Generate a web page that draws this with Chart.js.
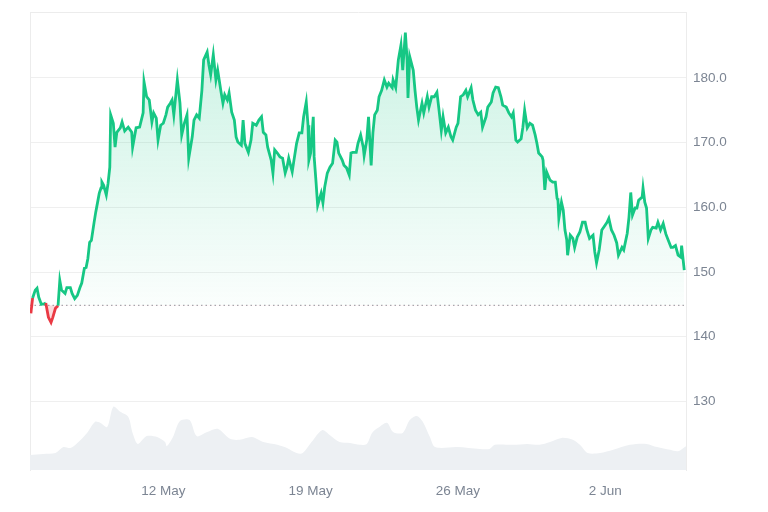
<!DOCTYPE html>
<html>
<head>
<meta charset="utf-8">
<script src="https://cdn.jsdelivr.net/npm/chart.js@4.4.1/dist/chart.umd.min.js"></script>
<style>
  body { margin: 0; background: #fff; }
  #wrap { width: 768px; height: 512px; position: relative; }
</style>
</head>
<body>
<div id="wrap"><canvas id="chart"></canvas></div>
<script>
const priceHours = [
  1,3,6,8,10,13,16,18,21,24,
  26,29,32,34,36,40,42,46,48,51,
  54,57,59,62,64,66,68,70,73,75,
  76,79,81,82,84,87,89,91,92,95,
  97,99,103,105,108,112,116,117,121,125,
  129,130,133,136,139,141,144,146,149,152,
  155,157,160,162,164,168,171,173,176,179,
  181,185,187,190,193,196,198,202,204,206,
  209,212,214,218,220,222,225,227,230,233,
  235,237,241,243,245,249,252,254,258,261,
  264,266,269,271,275,277,279,282,285,288,
  291,293,295,299,301,304,307,310,312,315,
  317,318,320,323,324,326,328,332,334,336,
  339,342,345,348,350,352,356,358,361,364,
  366,368,372,374,377,380,381,384,386,389,
  391,393,396,398,401,404,407,409,413,414,
  417,420,423,425,428,430,431,433,437,439,
  441,443,447,449,453,455,458,461,464,466,
  469,471,474,477,480,482,486,488,491,494,
  497,499,503,505,508,511,514,516,520,522,
  526,528,531,534,537,539,543,546,549,551,
  554,556,560,562,564,567,570,573,576,578,
  580,584,585,587,589,593,596,599,601,602,
  603,606,608,610,612,613,616,619,621,624,
  627,630,633,635,638,642,644,646,649,652,
  654,658,660,663,666,669,671,675,677,681,
  683,685,687,690,692,694,698,699,701,703,
  705,708,710,714,716,719,722,725,727,731,
  733,736,739,742,743,746
]
const priceValues = [
  143.6,146.0,147.2,147.5,146.1,145.0,145.1,145.2,143.0,142.2,
  143.0,144.4,144.8,148.7,147.2,146.7,147.6,147.6,146.7,145.9,
  146.4,147.6,148.3,150.6,150.7,152.1,154.6,154.9,157.6,159.3,
  160.0,162.2,163.0,163.9,163.4,161.9,163.7,166.2,174.3,173.0,
  169.3,171.6,172.3,173.2,171.8,172.4,171.6,169.3,172.3,172.4,
  174.6,179.4,177.1,176.6,173.2,174.6,173.8,170.4,172.7,173.0,
  174.3,175.5,176.1,176.6,174.3,179.7,176.1,171.2,173.0,174.3,
  167.6,170.9,173.5,174.3,173.8,178.1,182.8,184.0,182.0,180.5,
  183.6,179.7,181.2,177.7,176.1,177.4,176.6,177.7,174.7,173.5,
  170.9,170.1,169.6,173.5,169.9,168.5,170.4,173.0,172.7,173.5,
  174.0,171.6,171.2,169.3,167.3,165.3,168.9,168.4,167.8,167.6,
  165.3,166.2,167.6,165.5,167.3,169.9,171.5,171.5,174.0,176.3,
  172.7,167.3,168.4,174.0,167.8,164.2,160.3,162.2,160.7,163.1,
  165.3,166.2,166.8,170.4,170.1,168.4,167.3,166.5,166.1,165.0,
  168.4,168.5,168.5,169.9,171.2,169.3,168.0,170.4,174.0,166.5,
  171.5,174.3,175.0,177.1,178.1,179.7,178.6,179.2,178.5,179.7,
  178.5,182.8,185.1,181.2,187.0,182.8,176.9,183.3,181.2,178.1,
  175.5,173.5,176.1,174.6,177.1,175.5,177.1,177.1,177.8,175.5,
  171.9,174.0,171.5,172.4,170.9,170.4,172.4,173.0,177.1,177.4,
  178.1,177.1,178.5,176.6,175.0,174.3,174.7,172.4,174.0,175.5,
  176.3,177.7,178.6,178.5,177.1,175.8,175.5,174.6,174.0,174.6,
  170.4,170.1,170.6,172.4,175.0,172.3,173.0,172.7,171.2,169.9,
  168.4,167.8,167.3,162.7,165.5,164.2,163.9,163.9,161.4,161.1,
  158.3,160.8,159.6,156.5,155.0,152.6,155.7,155.2,153.8,155.4,
  156.2,157.7,157.7,156.5,155.2,155.7,153.1,151.4,153.4,156.5,
  156.9,157.7,158.3,156.5,155.7,154.5,152.6,153.8,153.4,156.0,
  158.5,162.3,158.8,159.9,159.9,161.1,161.6,163.0,160.8,159.9,
  155.2,156.5,156.9,156.8,157.7,156.5,157.5,155.9,155.2,153.8,
  153.8,154.1,152.6,152.3,154.1,150.3
]

// volume band at the bottom (relative units)
const volHours = [
  0,15,29,38,46,54,65,74,80,88,
  95,103,112,117,123,133,145,154,156,163,
  171,182,190,202,214,228,239,253,266,282,
  293,304,311,321,333,342,353,365,376,384,
  390,397,407,414,425,433,441,448,456,462,
  487,513,524,530,551,567,581,593,606,619,
  627,636,650,665,684,703,715,730,739,748
]
const volumes = [
  3.3,3.5,3.7,5.0,4.8,5.9,8.1,10.5,10.3,9.4,
  13.8,12.7,11.6,8.1,5.7,7.4,7.2,6.1,5.2,7.2,
  10.7,10.9,7.4,8.3,9.0,6.8,6.6,7.2,6.1,5.5,
  4.8,3.7,3.7,6.1,8.7,7.6,6.1,5.9,5.5,5.7,
  8.1,9.2,10.3,8.3,8.1,10.9,11.8,10.5,7.2,5.0,
  5.0,4.6,4.6,5.5,5.5,5.7,5.5,6.1,7.0,6.6,
  5.5,3.7,3.7,4.4,5.5,5.7,5.0,4.4,4.1,5.2
]

const basePrice = 144.86
const yTicks = [130, 140, 150, 160, 170, 180]
const yTickLabels = ['130', '140', '150', '160.0', '170.0', '180.0']
const xTicks = [152, 320, 488, 656]
const xTickLabels = ['12 May', '19 May', '26 May', '2 Jun']

const green = '#16c784'
const red = '#ea3943'
const labelFont = {family: 'Liberation Sans, Arial, sans-serif', size: 13.5}

const priceData = priceHours.map((h, i) => ({x: h, y: priceValues[i]}))
const volData = volHours.map((h, i) => ({x: h, y: volumes[i]}))

const ctx = document.getElementById('chart')
const chart = new Chart(ctx, {
    type: 'line',
    data: {
        datasets: [{
            data: priceData,
            yAxisID: 'y',
            borderColor: green,
            borderWidth: 2.8,
            pointRadius: 0,
            tension: 0,
            order: 1,
            segment: {
                borderColor: c => (c.p0.parsed.y + c.p1.parsed.y) / 2 < basePrice ? red : green
            },
            backgroundColor: (c) => {
                const ch = c.chart
                const area = ch.chartArea
                if (!area) return 'rgba(22,199,132,0.1)'
                const yb = ch.scales.y.getPixelForValue(basePrice)
                const g = ch.ctx.createLinearGradient(0, area.top, 0, yb)
                g.addColorStop(0, 'rgba(22,199,132,0.24)')
                g.addColorStop(1, 'rgba(22,199,132,0.02)')
                return g
            },
            fill: {target: {value: basePrice}, below: 'rgba(234,57,67,0.18)'}
        },{
            data: [{x: 0, y: basePrice}, {x: 748, y: basePrice}],
            yAxisID: 'y',
            borderColor: '#8f959c',
            borderWidth: 1,
            borderDash: [1.5, 3],
            pointRadius: 0,
            fill: false,
            order: 2
        },{
            data: volData,
            yAxisID: 'yVol',
            borderWidth: 0,
            borderColor: 'rgba(0,0,0,0)',
            backgroundColor: '#edf0f3',
            pointRadius: 0,
            tension: 0.3,
            fill: 'origin',
            order: 3
        }]
    },
    options: {
        responsive: true,
        maintainAspectRatio: false,
        animation: false,
        layout: {padding: {left: 30, top: 12, right: 0, bottom: 0}},
        plugins: {legend: {display: false}, tooltip: {enabled: false}},
        scales: {
            x: {
                type: 'linear',
                position: 'bottom',
                min: 0,
                max: 748,
                grid: {display: false},
                border: {display: false},
                afterBuildTicks: s => { s.ticks = xTicks.map(v => ({value: v})) },
                afterFit: s => { s.height = 42; s.paddingLeft = 0; s.paddingRight = 0 },
                ticks: {
                    autoSkip: false,
                    maxRotation: 0,
                    padding: 5,
                    color: '#7c8593',
                    font: labelFont,
                    callback: v => xTickLabels[xTicks.indexOf(v)]
                }
            },
            xTop: {
                type: 'linear',
                position: 'top',
                min: 0,
                max: 748,
                grid: {display: false},
                ticks: {display: false},
                border: {color: '#ececec'},
                afterFit: s => { s.height = 0 }
            },
            y: {
                type: 'linear',
                position: 'right',
                min: 119.4,
                max: 190.2,
                grid: {color: '#efefef', drawTicks: false},
                border: {color: '#ececec'},
                afterBuildTicks: s => { s.ticks = yTicks.map(v => ({value: v})) },
                afterFit: s => { s.width = 82; s.paddingTop = 0; s.paddingBottom = 0 },
                ticks: {
                    padding: 7,
                    color: '#7c8593',
                    font: labelFont,
                    callback: v => yTickLabels[yTicks.indexOf(v)]
                }
            },
            yVol: {
                type: 'linear',
                position: 'left',
                min: 0,
                max: 100,
                grid: {display: false},
                ticks: {display: false},
                border: {color: '#ececec'},
                afterFit: s => { s.width = 0 }
            }
        }
    }
})
</script>
</body>
</html>
